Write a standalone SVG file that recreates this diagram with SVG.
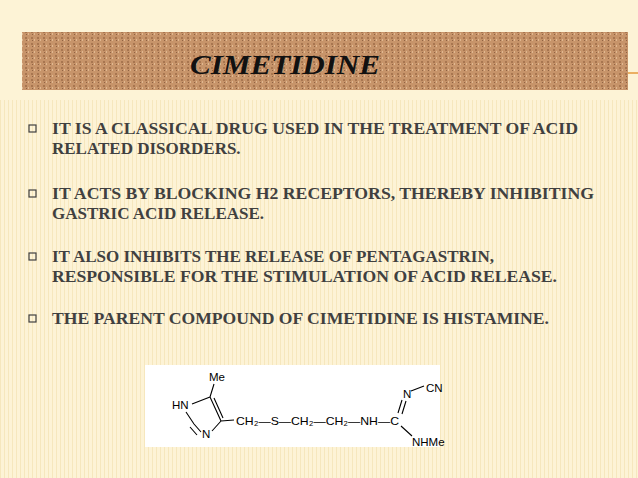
<svg xmlns="http://www.w3.org/2000/svg" width="638" height="478" viewBox="0 0 638 478">
<defs>
<pattern id="stripe" width="4" height="4" patternUnits="userSpaceOnUse"><rect width="4" height="4" fill="#fdf3d6"/><rect width="1" height="4" fill="#f6e7bd"/></pattern>
<pattern id="cork" width="6" height="6" patternUnits="userSpaceOnUse"><rect width="6" height="6" fill="#c7946a"/><rect x="1" y="1" width="2" height="2" fill="#a87650"/><rect x="4" y="3" width="1" height="2" fill="#e0b891"/><rect x="2" y="4" width="1" height="1" fill="#8f6243"/></pattern>
<style>
.t{font-family:"Liberation Serif",serif;font-weight:bold;font-size:17px;fill:#404040}
.b{fill:none;stroke:#404040;stroke-width:1.2}
.c{font-family:"Liberation Sans",sans-serif;font-size:11.5px;fill:#000}
.l{stroke:#000;stroke-width:1.1;fill:none}
</style>
</defs>
<rect width="638" height="478" fill="#fdf3d6"/>
<rect x="0" y="100" width="638" height="378" fill="url(#stripe)"/>
<g id="header">
<rect x="22" y="32" width="606" height="58" fill="url(#cork)"/>
<line x1="628" y1="73" x2="638" y2="73" stroke="#e49a3c" stroke-width="1.5"/>
<text x="190" y="74" font-family="Liberation Serif,serif" font-weight="bold" font-style="italic" font-size="28" fill="#111" textLength="190" lengthAdjust="spacingAndGlyphs">CIMETIDINE</text>
</g>
<g id="bullets">
<rect class="b" x="29" y="125" width="7" height="7"/>
<text class="t" x="52" y="134" textLength="526" lengthAdjust="spacingAndGlyphs">IT IS A CLASSICAL DRUG USED IN THE TREATMENT OF ACID</text>
<text class="t" x="52" y="154">RELATED DISORDERS.</text>
<rect class="b" x="29" y="190" width="7" height="7"/>
<text class="t" x="52" y="199" textLength="542" lengthAdjust="spacingAndGlyphs">IT ACTS BY BLOCKING H2 RECEPTORS, THEREBY INHIBITING</text>
<text class="t" x="52" y="219">GASTRIC ACID RELEASE.</text>
<rect class="b" x="29" y="253" width="7" height="7"/>
<text class="t" x="52" y="262">IT ALSO INHIBITS THE RELEASE OF PENTAGASTRIN,</text>
<text class="t" x="52" y="282" textLength="505" lengthAdjust="spacingAndGlyphs">RESPONSIBLE FOR THE STIMULATION OF ACID RELEASE.</text>
<rect class="b" x="29" y="315" width="7" height="7"/>
<text class="t" x="52" y="324" textLength="497" lengthAdjust="spacingAndGlyphs">THE PARENT COMPOUND OF CIMETIDINE IS HISTAMINE.</text>
</g>
<g id="structure">
<rect x="145" y="365" width="295" height="82" fill="#fff"/>
<text class="c" x="209" y="381">Me</text>
<text class="c" x="172" y="409">HN</text>
<text class="c" x="202" y="438">N</text>
<path class="l" d="M214 384 L210 397 L221 421 L212 431 M192 404 L210 397 M186 412 L194 424 L201 432 M190 427 L197 435 M214 398 L223 418 M221 421 L234 420"/>
<text class="c" x="236" y="425" textLength="163" lengthAdjust="spacingAndGlyphs">CH₂—S—CH₂—CH₂—NH—C</text>
<text class="c" x="403" y="398">N</text>
<text class="c" x="426" y="392">CN</text>
<text class="c" x="412" y="446">NHMe</text>
<path class="l" d="M411 391 L424 386 M402 400 L398 413 M406 401 L402 414 M401 426 L412 436"/>
</g>
</svg>
